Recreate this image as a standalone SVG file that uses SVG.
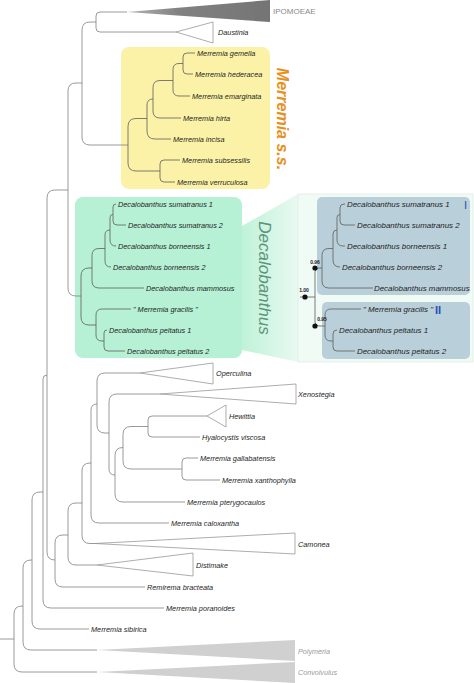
<svg xmlns="http://www.w3.org/2000/svg" width="474" height="683" viewBox="0 0 474 683">
<style>
.br{fill:none;stroke:#808080;stroke-width:0.8}
.bi{fill:none;stroke:#5e5e5e;stroke-width:0.8}
.tri{fill:#fff;stroke:#8a8a8a;stroke-width:0.7}
.lab{font-family:"Liberation Sans",Arial,sans-serif;font-style:italic;font-size:7.3px;fill:#1e1e1e}
.ilab{font-family:"Liberation Sans",Arial,sans-serif;font-style:italic;font-size:7.9px;fill:#1e1e1e}
.glab{font-family:"Liberation Sans",Arial,sans-serif;font-style:italic;font-size:7.2px;fill:#9a9a9a}
.sup{font-family:"Liberation Sans",Arial,sans-serif;font-weight:bold;font-size:5px;fill:#222;text-anchor:middle}
.dot{fill:#111}
.mk{font-family:"Liberation Sans",Arial,sans-serif;font-size:11px;fill:#2450b8}
</style>
<defs>
<linearGradient id="gIpo" x1="0" y1="0" x2="1" y2="0"><stop offset="0" stop-color="#b5b5b5"/><stop offset="0.35" stop-color="#828282"/><stop offset="1" stop-color="#747474"/></linearGradient>
<linearGradient id="gProj" x1="0" y1="0" x2="1" y2="0"><stop offset="0" stop-color="#bff2d9"/><stop offset="1" stop-color="#e9f9f1"/></linearGradient>
</defs>

<g id="backgrounds">
<rect id="box-merremia" x="121" y="47" width="149" height="142" rx="8" fill="#fbf2a8"/>
<rect id="box-decalobanthus" x="75" y="197" width="167" height="161" rx="8" fill="#b6f0d5"/>
<polygon id="projection" points="242,226 298,194 298,362 242,350" fill="url(#gProj)"/>
<rect id="inset-panel" x="298" y="194" width="175" height="168" fill="#f1fbf6" stroke="#d8e6df" stroke-width="0.6"/>
<rect id="box-I" x="317" y="197" width="153" height="98" rx="5" fill="#b9cfd9"/>
<rect id="box-II" x="322" y="302" width="148" height="57" rx="5" fill="#b9cfd9"/>
</g>

<g id="clade-labels">
<text transform="translate(277,119) rotate(90)" text-anchor="middle" font-family="Liberation Sans, Arial, sans-serif" font-style="italic" font-weight="bold" font-size="16" fill="#e8901c">Merremia s.s.</text>
<text transform="translate(259,278) rotate(90)" text-anchor="middle" font-family="Liberation Sans, Arial, sans-serif" font-style="italic" font-size="17" fill="#5b9479">Decalobanthus</text>
</g>

<g id="connectors">
<path class="br" d="M0 639 H14"/>
<path class="br" d="M23 606 H22 Q14 606 14 614 V664 Q14 672 22 672 H97"/>
<path class="br" d="M32 560 H31 Q23 560 23 568 V642 Q23 650 31 650 H97"/>
<path class="br" d="M43 492 H40 Q32 492 32 500 V621 Q32 629 40 629 H89"/>
<path class="br" d="M47 375 Q43 375 43 379 V600 Q43 608 51 608 H164"/>
<path class="br" d="M68 190 H55 Q47 190 47 198 V552 Q47 560 55 560"/>
<path class="br" d="M82 83 H76 Q68 83 68 91 V288 Q68 296 76 296 H81"/>
<path class="br" d="M96 22 H90 Q82 22 82 30 V137 Q82 145 90 145 H128"/>
<path class="br" d="M127 12 H100 Q96 12 96 16 V28 Q96 32 100 32 H176"/>
<path class="bi" d="M147 118.5 H136 Q128 118.5 128 126.5 V163 Q128 171 136 171 H160"/>
<path class="bi" d="M153 99 Q147 99 147 105 V131 Q147 139 155 139 H171"/>
<path class="bi" d="M173 80.5 H160 Q153 80.5 153 87.5 V111 Q153 118 160 118 H181"/>
<path class="bi" d="M183 63.5 H179 Q173 63.5 173 69.5 V90 Q173 96 179 96 H190"/>
<path class="bi" d="M195 53 H187 Q183 53 183 57 V70 Q183 74 187 74 H193"/>
<path class="bi" d="M180 160 H164 Q160 160 160 164 V178 Q160 182 164 182 H175"/>
<path class="bi" d="M92 268 H89 Q81 268 81 276 V317 Q81 325 89 325 H96"/>
<path class="bi" d="M105 248.5 H99 Q92 248.5 92 255.5 V281 Q92 288 99 288 H144"/>
<path class="bi" d="M110 230 Q105 230 105 235 V261 Q105 267 111 267"/>
<path class="bi" d="M113 214.5 Q110 214.5 110 217.5 V240 Q110 246 116 246"/>
<path class="bi" d="M116 204 Q113 204 113 207 V221 Q113 225 117 225 H126"/>
<path class="bi" d="M131 309 H102 Q96 309 96 315 V335 Q96 341 102 341 H104"/>
<path class="bi" d="M107 330 Q104 330 104 333 V347 Q104 351 108 351 H125"/>
<path class="bi" d="M333 248.5 H329 Q322 248.5 322 255.5 V281 Q322 288 329 288 H373"/>
<path class="bi" d="M337 230 Q333 230 333 234 V260 Q333 267 340 267"/>
<path class="bi" d="M340 214.5 Q337 214.5 337 217.5 V240 Q337 246 343 246 H345"/>
<path class="bi" d="M345 204 H344 Q340 204 340 208 V221 Q340 225 344 225 H355"/>
<path class="bi" d="M322 268 H319 Q315 268 315 272 V322 Q315 326 319 326 H325"/>
<path class="bi" d="M361 309 H331 Q325 309 325 315 V335 Q325 341 331 341 H333"/>
<path class="bi" d="M337 330 Q333 330 333 334 V347 Q333 351 337 351 H355"/>
<path class="bi" d="M300 297 H315"/>
<path class="br" d="M68 535 H63 Q55 535 55 543 V579 Q55 587 63 587 H145"/>
<path class="br" d="M82 503 H76 Q68 503 68 511 V557 Q68 565 76 565 H97"/>
<path class="br" d="M91 463 H90 Q82 463 82 471 V535.5 Q82 543.5 90 543.5 H95"/>
<path class="br" d="M97 404 Q91 404 91 410 V515 Q91 523 99 523 H169"/>
<path class="br" d="M140 373 H105 Q97 373 97 381 V425 Q97 433 105 433 H109"/>
<path class="br" d="M160 394 H117 Q109 394 109 402 V469 Q109 475 115 475"/>
<path class="br" d="M123 447.5 Q115 447.5 115 455.5 V494 Q115 502 123 502 H185"/>
<path class="br" d="M148 426.5 H131 Q123 426.5 123 434.5 V461 Q123 469 131 469 H182"/>
<path class="br" d="M207 416 H152 Q148 416 148 420 V433 Q148 437 152 437 H200"/>
<path class="br" d="M198 458 H186 Q182 458 182 462 V476 Q182 480 186 480 H220"/>
</g>

<g id="collapsed">
<path id="tri-ipomoeae" d="M127 12 L270 0 L270 22 Z" fill="url(#gIpo)"/>
<path id="tri-daustinia" class="tri" d="M176 32 L213 22 L213 43 Z"/>
<path id="tri-operculina" class="tri" d="M140 373 L213 363 L213 384 Z"/>
<path id="tri-xenostegia" class="tri" d="M160 394 L296 384 L296 404 Z"/>
<path id="tri-hewittia" class="tri" d="M207 416 L226 405 L226 427 Z"/>
<path id="tri-camonea" class="tri" d="M95 543.5 L295 533 L295 554 Z"/>
<path id="tri-distimake" class="tri" d="M97 565 L193 553 L193 576 Z"/>
<path id="tri-polymeria" d="M97 650 L295 640 L295 661 Z" fill="#d0d0d0"/>
<path id="tri-convolvulus" d="M97 672 L295 662 L295 683 Z" fill="#d0d0d0"/>
</g>

<g id="support">
<circle class="dot" cx="315" cy="268" r="2.6"/>
<circle class="dot" cx="305" cy="297" r="2.6"/>
<circle class="dot" cx="315" cy="326" r="2.6"/>
<text class="sup" x="315" y="264">0.96</text>
<text class="sup" x="304" y="292">1.00</text>
<text class="sup" x="322" y="321">0.95</text>
<text class="mk" x="464" y="209">I</text>
<text class="mk" x="435" y="314" font-weight="bold">II</text>
</g>

<g id="tips">
<text x="273" y="14" font-family="Liberation Sans, Arial, sans-serif" font-size="8" fill="#8a8a8a">IPOMOEAE</text>
<text class="lab" x="218" y="34.5">Daustinia</text>
<text class="lab" x="197" y="55.5">Merremia gemella</text>
<text class="lab" x="195" y="76.5">Merremia hederacea</text>
<text class="lab" x="192" y="98.5">Merremia emarginata</text>
<text class="lab" x="183" y="120.5">Merremia hirta</text>
<text class="lab" x="173" y="141.5">Merremia incisa</text>
<text class="lab" x="182" y="162.5">Merremia subsessilis</text>
<text class="lab" x="177" y="184.5">Merremia verruculosa</text>
<text class="lab" x="118" y="206.5">Decalobanthus sumatranus 1</text>
<text class="lab" x="128" y="227.5">Decalobanthus sumatranus 2</text>
<text class="lab" x="118" y="248.5">Decalobanthus borneensis 1</text>
<text class="lab" x="113" y="269.5">Decalobanthus borneensis 2</text>
<text class="lab" x="146" y="290.5">Decalobanthus mammosus</text>
<text class="lab" x="133" y="311.5">" Merremia gracilis "</text>
<text class="lab" x="109" y="332.5">Decalobanthus peltatus 1</text>
<text class="lab" x="127" y="353.5">Decalobanthus peltatus 2</text>
<text class="ilab" x="347" y="206.8">Decalobanthus sumatranus 1</text>
<text class="ilab" x="357" y="227.8">Decalobanthus sumatranus 2</text>
<text class="ilab" x="347" y="248.8">Decalobanthus borneensis 1</text>
<text class="ilab" x="342" y="269.8">Decalobanthus borneensis 2</text>
<text class="ilab" x="374" y="290.8">Decalobanthus mammosus</text>
<text class="ilab" x="363" y="311.8">" Merremia gracilis "</text>
<text class="ilab" x="339" y="332.8">Decalobanthus peltatus 1</text>
<text class="ilab" x="357" y="353.8">Decalobanthus peltatus 2</text>
<text class="lab" x="216" y="375.5">Operculina</text>
<text class="lab" x="298" y="396.5">Xenostegia</text>
<text class="lab" x="229" y="418.5">Hewittia</text>
<text class="lab" x="202" y="439.5">Hyalocystis viscosa</text>
<text class="lab" x="200" y="460.5">Merremia gallabatensis</text>
<text class="lab" x="222" y="482.5">Merremia xanthophylla</text>
<text class="lab" x="187" y="504.5">Merremia pterygocaulos</text>
<text class="lab" x="171" y="525.5">Merremia caloxantha</text>
<text class="lab" x="298" y="546.5">Camonea</text>
<text class="lab" x="196" y="567.5">Distimake</text>
<text class="lab" x="147" y="589.5">Remirema bracteata</text>
<text class="lab" x="166" y="610.5">Merremia poranoides</text>
<text class="lab" x="91" y="631.5">Merremia sibirica</text>
<text class="glab" x="298" y="653.5">Polymeria</text>
<text class="glab" x="298" y="674.5">Convolvulus</text>
</g>
</svg>
